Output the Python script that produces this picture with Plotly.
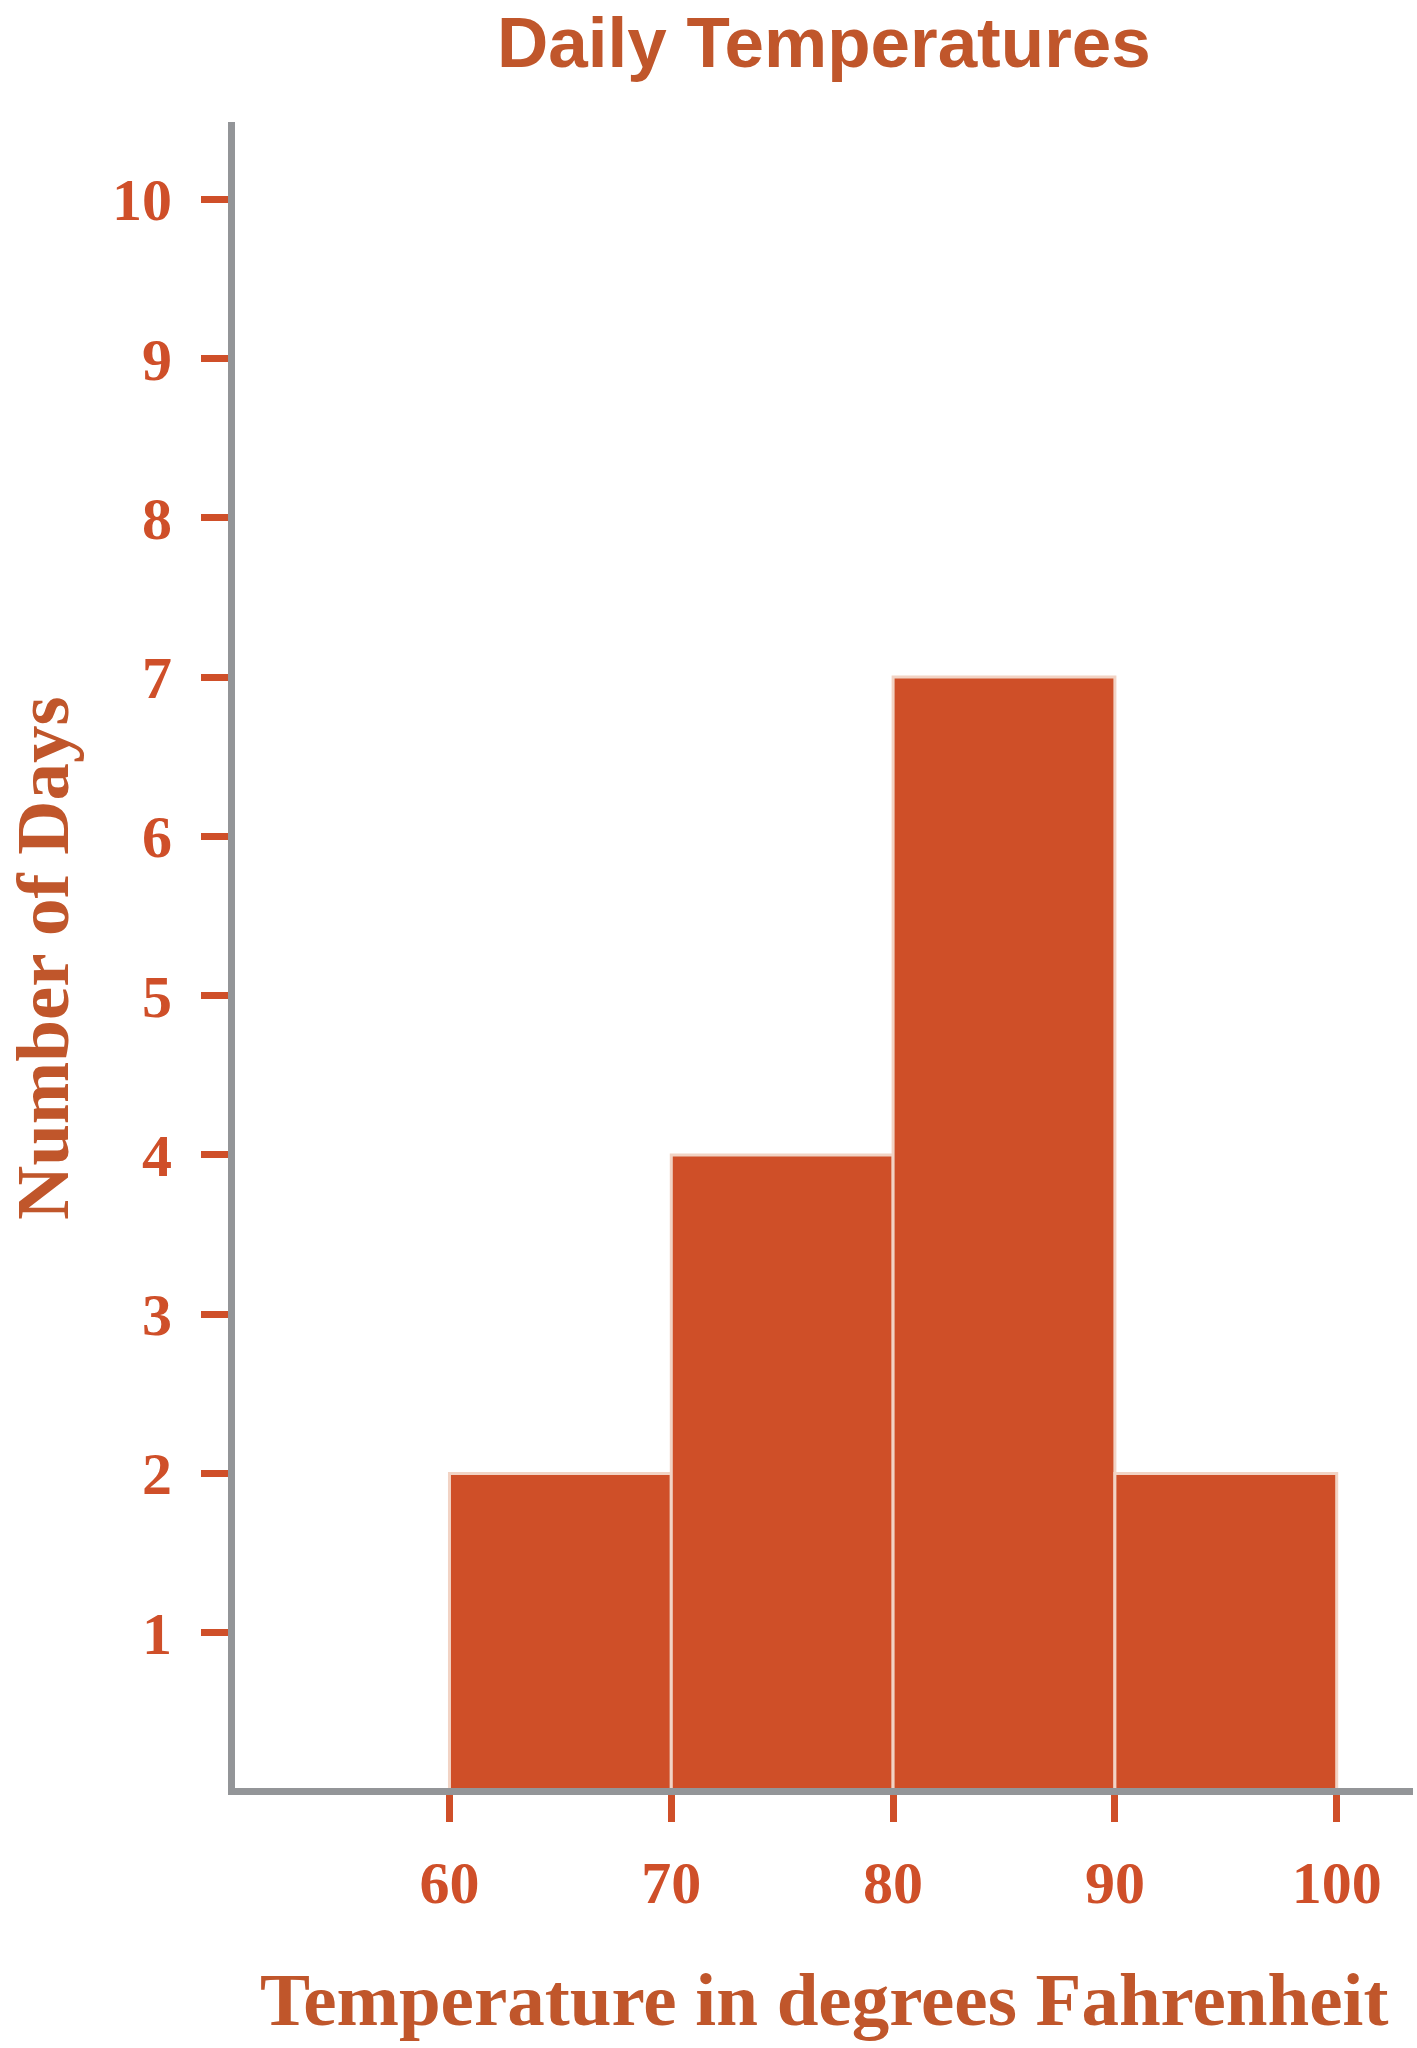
import plotly.graph_objects as go

# Data
bin_edges = [60, 70, 80, 90, 100]
counts = [2, 4, 7, 2]
x_ticks = [60, 70, 80, 90, 100]
y_ticks = [1, 2, 3, 4, 5, 6, 7, 8, 9, 10]
title_text = "Daily Temperatures"
x_title = "Temperature in degrees Fahrenheit"
y_title = "Number of Days"

mids = [(a + b) / 2 for a, b in zip(bin_edges[:-1], bin_edges[1:])]
widths = [b - a for a, b in zip(bin_edges[:-1], bin_edges[1:])]

BAR = "#cf4f28"
TICK = "#cf4f29"
TITLE = "#c0562b"
AXIS = "#939598"

fig = go.Figure()
fig.add_trace(go.Bar(
    x=mids, y=counts, width=widths,
    marker=dict(color=BAR, line=dict(color="#f2d3c4", width=3)),
    hoverinfo="skip",
))

tickfont = dict(family="Liberation Serif", size=60, color=TICK, weight="bold")

fig.update_layout(
    width=1417, height=2048,
    margin=dict(l=235, r=4, t=122, b=260),
    paper_bgcolor="white", plot_bgcolor="white",
    showlegend=False,
    bargap=0,
    hovermode=False,
    xaxis=dict(range=[50.33, 103.44], tickvals=x_ticks, showgrid=False, zeroline=False,
               showline=True, linecolor=AXIS, linewidth=7,
               ticks="outside", ticklen=27, tickwidth=7, tickcolor=TICK,
               tickfont=tickfont, ticklabelstandoff=9),
    yaxis=dict(range=[0.025, 10.485], tickvals=y_ticks, showgrid=False, zeroline=False,
               showline=True, linecolor=AXIS, linewidth=7,
               ticks="outside", ticklen=27, tickwidth=7, tickcolor=TICK,
               tickfont=tickfont, ticklabelstandoff=17),
    annotations=[
        dict(text=title_text, xref="paper", yref="paper", x=0.5, y=1,
             xanchor="center", yanchor="top", yshift=121, showarrow=False,
             font=dict(family="Liberation Sans", size=71, color=TITLE, weight="bold")),
        dict(text=x_title, xref="paper", yref="paper", x=0.5, y=0,
             xanchor="center", yanchor="bottom", yshift=-255, showarrow=False,
             font=dict(family="Liberation Serif", size=75, color=TITLE, weight="bold")),
        dict(text=y_title, xref="paper", yref="paper", x=0, y=0.5,
             xanchor="center", yanchor="middle", xshift=-193, yshift=-3, textangle=-90,
             showarrow=False,
             font=dict(family="Liberation Serif", size=75, color=TITLE, weight="bold")),
    ],
)

fig.write_html("out.html", config={"displayModeBar": False, "staticPlot": True},
               post_script="document.body.style.margin='0';")
